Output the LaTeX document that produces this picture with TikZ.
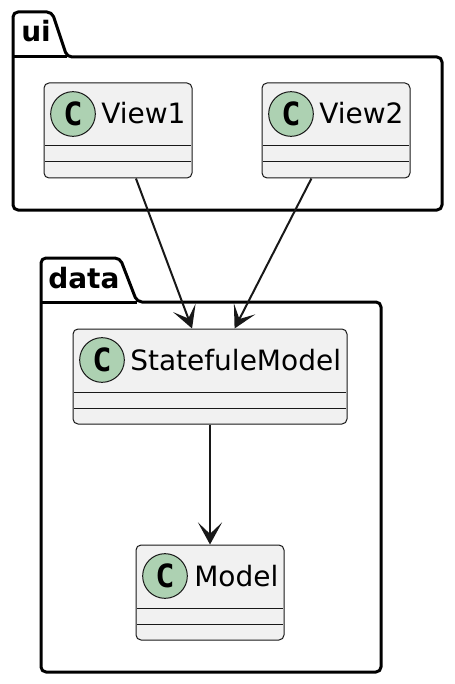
\documentclass[tikz,border=0pt]{standalone}
\usepackage{fontspec}
\setmainfont{DejaVu Sans}
\newfontfamily\markfont{DejaVu Sans Mono}
\usetikzlibrary{arrows.meta}
\definecolor{linecol}{HTML}{181818}
\definecolor{boxcol}{HTML}{F1F1F1}
\definecolor{markcol}{HTML}{ADD1B2}
\tikzset{
  classbox/.style={draw=linecol, fill=boxcol, rounded corners=3.75pt, line width=0.75pt, minimum height=71.25pt, inner sep=0pt},
  classname/.style={anchor=base west, inner sep=0pt, text=black, font=\fontsize{21}{24}\selectfont},
  classmark/.style={circle, draw=linecol, fill=markcol, line width=0.75pt, minimum size=33.5pt, inner sep=0pt, font=\markfont\bfseries\fontsize{24}{24}\selectfont},
  pkgname/.style={anchor=base west, inner sep=0pt, font=\bfseries\fontsize{21}{24}\selectfont},
  pkgline/.style={draw=black, line width=2.25pt, rounded corners=3.75pt, line join=round},
  assoc/.style={draw=linecol, line width=1.5pt, -{Stealth[length=16.5pt, width=18pt, inset=8.5pt]}},
}
\begin{document}
\begin{tikzpicture}[x=0.75pt, y=-0.75pt]
\useasboundingbox (0,0) rectangle (454,684);
% packages
\draw[pkgline] (13,57) -- (13,12) -- (52,12) -- (67,57) -- (442,57) -- (442,210) -- (13,210) -- cycle;
\draw[pkgline] (13,57) -- (67,57);
\draw[pkgline] (41,302) -- (41,258) -- (120,258) -- (137,302) -- (381,302) -- (381,672) -- (41,672) -- cycle;
\draw[pkgline] (41,302) -- (137,302);
\node[pkgname] (uiname) at (21,42) {ui};
\node[pkgname] (dataname) at (48,288) {data};
% classes
\node[classbox, minimum width=111pt] (view1) at (118,130.5) {};
\node[classbox, minimum width=111pt] (view2) at (336,130.5) {};
\node[classbox, minimum width=205.5pt] (statefulemodel) at (210,376.5) {};
\node[classbox, minimum width=111pt] (model) at (210,592.5) {};
\node[classmark] (view1mark) at (73,114) {C};
\node[classmark] (view2mark) at (291,114) {C};
\node[classmark] (statefulemark) at (102,360) {C};
\node[classmark] (modelmark) at (165,576) {C};
\node[classname] (view1name) at (101,124) {View1};
\node[classname] (view2name) at (319,124) {View2};
\node[classname] (statefulename) at (130,370) {StatefuleModel};
\node[classname] (modelname) at (194,586) {Model};
% member separators
\draw[linecol, line width=0.75pt] (45,146) -- (191,146) (45,162) -- (191,162);
\draw[linecol, line width=0.75pt] (263,146) -- (409,146) (263,162) -- (409,162);
\draw[linecol, line width=0.75pt] (74,392) -- (346,392) (74,408) -- (346,408);
\draw[linecol, line width=0.75pt] (137,608) -- (283,608) (137,624) -- (283,624);
% relations
\draw[assoc] (view1) -- (statefulemodel);
\draw[assoc] (view2) -- (statefulemodel);
\draw[assoc] (statefulemodel) -- (model);
\end{tikzpicture}
\end{document}
